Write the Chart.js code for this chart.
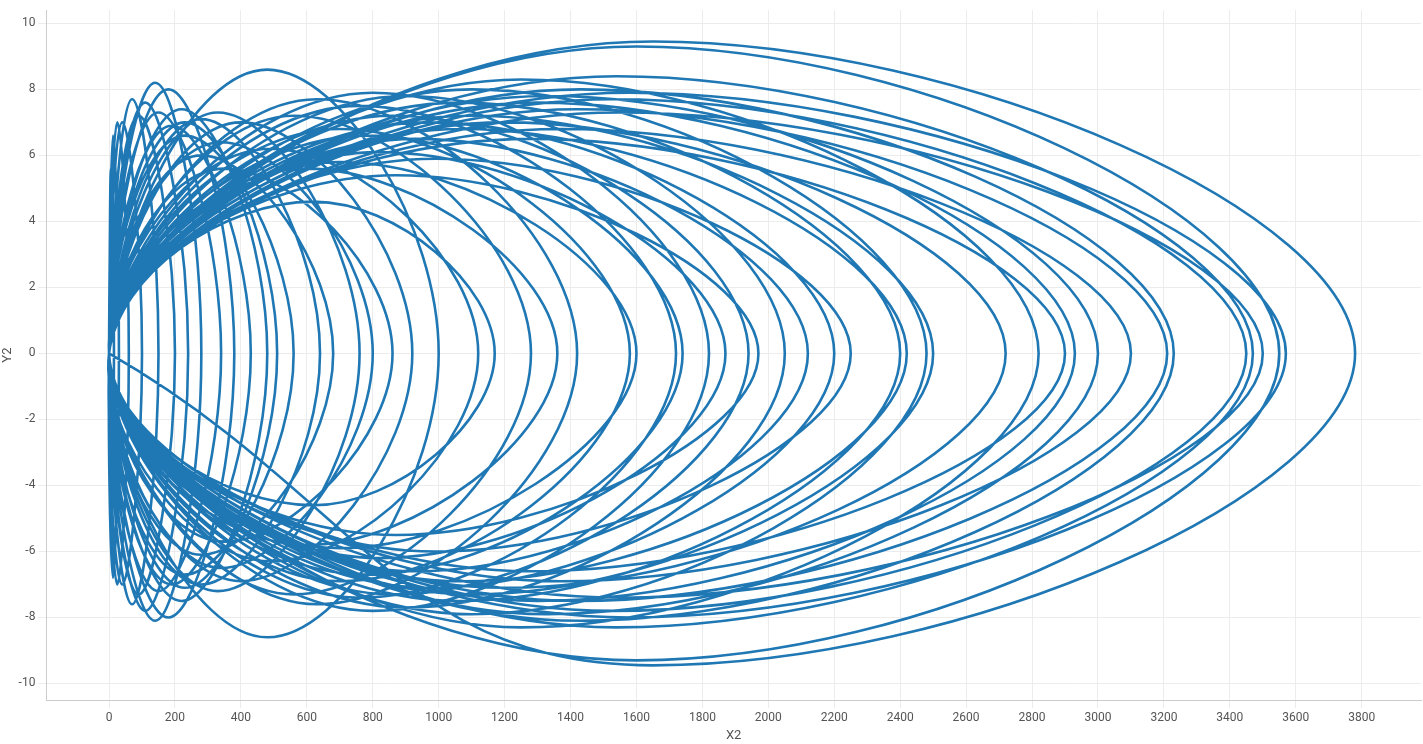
<!DOCTYPE html>
<html><head><meta charset="utf-8">
<script src="https://cdn.jsdelivr.net/npm/chart.js@4"></script>
<style>html,body{margin:0;background:#fff}#w{width:1423px;height:744px}</style>
</head><body><div id="w"><canvas id="c"></canvas></div>
<script>
// Each loop: [x at right end (y=0), top y, x at top, bottom y, x at bottom]
const loopXmax = [15,30,60,100,150,200,240,280,340,380,430,480,510,560,640,680,760,800,860,920,1000,1120,1170,1280,1360,1420,1580,1600,1720,1740,1820,1870,1940,1970,2050,2120,2200,2250,2400,2420,2480,2500,2720,2820,2900,2930,3000,3100,3210,3230,3450,3470,3500,3550,3570,3780];
const loopYtop  = [5.6,6.6,7.0,7.0,7.7,7.2,7.6,8.2,7.3,8.0,6.9,7.4,7.0,6.6,7.1,6.0,7.3,6.4,5.6,7.0,8.6,6.2,4.6,7.2,5.6,7.7,6.8,5.8,7.5,6.6,7.9,6.1,7.2,5.4,7.8,6.5,7.0,5.9,7.6,6.8,8.0,7.2,7.0,8.3,6.5,7.6,7.8,6.8,7.4,8.0,7.7,8.4,7.3,9.3,7.9,9.45];
const loopXtop  = [6,12,25,40,70,90,110,140,150,180,190,220,230,230,280,280,330,340,350,400,480,490,620,560,600,630,700,700,760,780,800,820,860,870,900,930,970,990,1060,1070,1100,1100,1200,1250,1280,1300,1330,1370,1420,1430,1530,1540,1550,1600,1580,1650];
const loopYbot  = [-5.6,-6.8,-7.0,-7.0,-7.6,-7.3,-7.8,-8.1,-7.2,-8.0,-7.0,-7.5,-7.1,-6.7,-7.0,-6.1,-7.2,-6.5,-5.7,-6.9,-8.6,-6.3,-4.6,-7.3,-5.8,-7.6,-6.9,-5.9,-7.4,-6.7,-7.8,-6.2,-7.3,-5.5,-7.7,-6.6,-7.1,-6.0,-7.5,-6.9,-7.9,-7.3,-7.1,-8.3,-6.6,-7.5,-7.9,-6.9,-7.5,-8.1,-7.8,-8.3,-7.4,-9.3,-8.0,-9.45];
const loopXbot  = [6,12,25,40,70,90,110,140,150,180,190,220,230,230,280,280,330,340,350,400,480,490,620,560,600,630,700,700,760,780,800,820,860,870,900,930,970,990,1060,1070,1100,1100,1200,1250,1280,1300,1330,1370,1420,1430,1530,1540,1550,1600,1580,1650];
const xTicks = [0,200,400,600,800,1000,1200,1400,1600,1800,2000,2200,2400,2600,2800,3000,3200,3400,3600,3800];
const yTicks = [-10,-8,-6,-4,-2,0,2,4,6,8,10];

const pts = [{x:0,y:0}];
loopXmax.forEach((xm,i)=>{
  pts.push({x:loopXtop[i],y:loopYtop[i]});
  pts.push({x:xm,y:0});
  pts.push({x:loopXbot[i],y:loopYbot[i]});
  pts.push({x:0,y:0});
});

new Chart(document.getElementById('c'),{
  type:'scatter',
  data:{datasets:[{data:pts,showLine:true,borderColor:'#1f77b4',borderWidth:2.6,pointRadius:0,tension:0.45,fill:false}]},
  options:{responsive:true,maintainAspectRatio:false,animation:false,
    plugins:{legend:{display:false},tooltip:{enabled:false}},
    layout:{padding:{top:4,right:2}},
    scales:{
      x:{type:'linear',min:-190,max:3980,afterBuildTicks:a=>{a.ticks=xTicks.map(v=>({value:v}));},
        grid:{color:'#ececec'},border:{color:'#ccc'},
        ticks:{color:'#555',font:{family:'Roboto',size:12},callback:v=>String(v)},
        title:{display:true,text:'X2',color:'#555',padding:0,font:{family:'Roboto',size:13}}},
      y:{min:-10.5,max:10.4,afterBuildTicks:a=>{a.ticks=yTicks.map(v=>({value:v}));},
        grid:{color:'#ececec'},border:{color:'#ccc'},
        ticks:{color:'#555',font:{family:'Roboto',size:12},callback:v=>String(v)},
        title:{display:true,text:'Y2',color:'#555',padding:0,font:{family:'Roboto',size:13}}}
    }}
});
</script></body></html>
